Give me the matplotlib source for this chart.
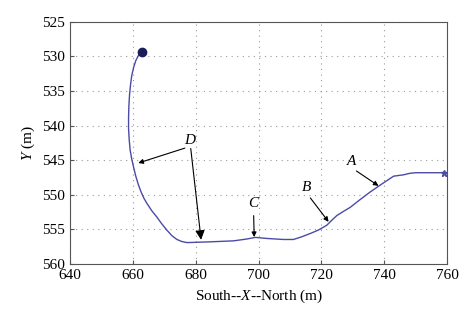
import numpy as np
import matplotlib
matplotlib.use("Agg")
import matplotlib.pyplot as plt

plt.rcParams['font.family'] = ['Liberation Serif', 'DejaVu Serif']
plt.rcParams['mathtext.fontset'] = 'custom'
plt.rcParams['mathtext.it'] = 'Liberation Serif:italic'
plt.rcParams['mathtext.rm'] = 'Liberation Serif'

# trajectory
x_path = [662.8, 661.8, 660.9, 660.2, 659.6, 659.2, 658.9, 658.7, 658.6, 658.6,
          658.8, 659.1, 659.6, 660.2, 660.9, 661.7, 662.6, 663.5, 664.4, 666.0,
          667.6, 669.2, 670.8, 672.4, 674.0, 675.6, 677.2, 684.0, 692.0, 696.0,
          699.0, 702.6, 707.9, 711.1, 713.5, 716.4, 719.0, 721.7, 723.5, 724.9,
          727.0, 729.2, 732.0, 735.5, 738.7, 741.0, 743.0, 746.2, 748.0, 750.0,
          759.0]
y_path = [529.3, 529.8, 530.6, 531.6, 532.8, 534.2, 535.6, 537.2, 538.8, 540.4,
          542.0, 543.5, 544.8, 546.0, 547.3, 548.5, 549.6, 550.5, 551.2, 552.3,
          553.2, 554.2, 555.1, 555.9, 556.45, 556.75, 556.9, 556.8, 556.65, 556.4,
          556.15, 556.3, 556.45, 556.45, 556.1, 555.6, 555.1, 554.4, 553.6, 553.0,
          552.4, 551.8, 550.8, 549.6, 548.6, 547.9, 547.3, 547.1, 546.9, 546.8,
          546.8]

x_ticks = [640, 660, 680, 700, 720, 740, 760]
y_ticks = [525, 530, 535, 540, 545, 550, 555, 560]

# label, text position, arrow tip
labels = ["A", "B", "C", "D", "D"]
text_xy = [(729.7, 545.2), (715.4, 548.9), (698.4, 551.3), (678.2, 542.1), (678.2, 542.1)]
tip_xy = [(738.2, 548.7), (722.3, 553.9), (698.6, 556.1), (661.7, 545.4), (681.7, 556.5)]

fig = plt.figure(figsize=(4.74, 3.22), dpi=100)
ax = fig.add_axes([0.148, 0.18, 0.795, 0.752])

line_col = '#4b4ba6'
ax.plot(x_path, y_path, color=line_col, lw=1.0)
ax.plot(x_path[0], y_path[0], 'o', color='#1c1c5a', ms=6)
ax.plot(x_path[-1], y_path[-1], '*', color=line_col, ms=5)

for i, (lab, txy, tip) in enumerate(zip(labels, text_xy, tip_xy)):
    big = (i == 4)
    ax.annotate("", xy=tip, xytext=(txy[0] + (0.2 if big else 0), txy[1] + (1.2 if big else 0.9)),
                arrowprops=dict(arrowstyle='-|>', color='black', lw=0.8,
                                mutation_scale=14 if big else 7, shrinkA=0 if big else 4, shrinkB=0))
    if i < 4:
        ax.text(txy[0], txy[1], lab, fontsize=11, style='italic', ha='center', va='center')

ax.set_xlim(640, 760)
ax.set_ylim(560, 525)
ax.set_xticks(x_ticks)
ax.set_yticks(y_ticks)
ax.grid(True, linestyle=(0, (1, 4)), color='#999999', lw=0.8)
ax.tick_params(direction='in', labelsize=11, length=3, color='#555555')
for s in ax.spines.values():
    s.set_color('#555555')

ax.set_xlabel(r"South--$\mathit{X}$--North (m)", fontsize=11)
ax.set_ylabel(r"$\mathit{Y}$ (m)", fontsize=11)

fig.savefig("out.png", dpi=100)
